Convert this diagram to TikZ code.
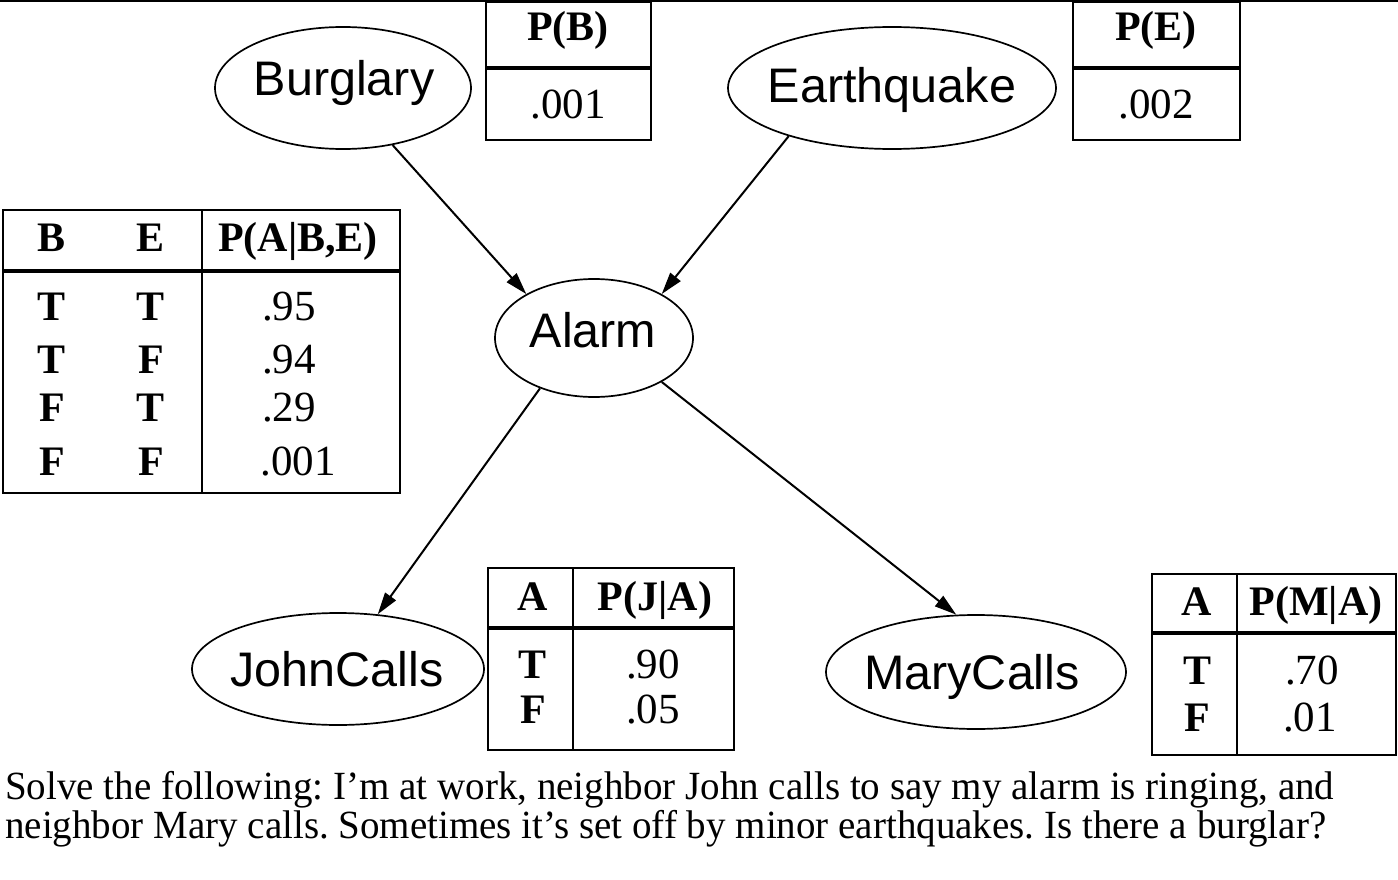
\documentclass[tikz,border=0pt]{standalone}
\usepackage{fontspec}
\usepackage{graphicx}
\setmainfont{Liberation Serif}
\newfontfamily\helvfont{Liberation Sans}
\usetikzlibrary{arrows.meta,shapes.geometric}
\frenchspacing
\begin{document}
\begin{tikzpicture}[x=1pt,y=-1pt,
  varnode/.style={draw, ellipse, line width=1.7pt, inner sep=0pt},
  vartext/.style={font=\helvfont\fontsize{48.5}{48.5}\selectfont, inner sep=0pt, anchor=base},
  edge/.style={line width=2pt, -{Triangle[length=22pt,width=13pt]}},
  tbl/.style={line width=2.2pt},
  sepline/.style={line width=4.5pt},
  hd/.style={font=\fontsize{42}{42}\selectfont\bfseries, anchor=base, inner sep=0pt},
  vl/.style={font=\fontsize{43}{43}\selectfont, anchor=base, inner sep=0pt},
  bd/.style={font=\fontsize{40}{40}\selectfont, anchor=base west, inner sep=0pt}
]
\useasboundingbox (0,0) rectangle (1398,880);
\fill[white] (0,0) rectangle (1398,880);
\draw[line width=2.5pt] (0,1) -- (1398,1);

% variable nodes
\node[varnode, minimum width=256pt, minimum height=122pt] (B) at (343,88) {};
\node[vartext] (Bt) at (344,96) {Burglary};
\node[varnode, minimum width=328pt, minimum height=122pt] (E) at (892,88) {};
\node[vartext] (Et) at (892,103) {Earthquake};
\node[varnode, minimum width=198pt, minimum height=118pt] (A) at (594,338) {};
\node[vartext] (At) at (593,347) {Alarm};
\node[varnode, minimum width=292pt, minimum height=112pt] (J) at (338,669) {};
\node[vartext] (Jt) at (337,686) {JohnCalls};
\node[varnode, minimum width=300pt, minimum height=114pt] (M) at (976,672) {};
\node[vartext] (Mt) at (972,689) {MaryCalls};

% edges
\draw[edge] (B.-49.7) -- (A.147.3);
\draw[edge] (E.205.7) -- (A.33.5);
\draw[edge] (A.223.4) -- (J.54.6);
\draw[edge] (A.-33) -- (M.109);

% P(B)
\draw[tbl] (486,2) rectangle (651,140);
\draw[sepline] (486,68) -- (651,68);
\node[hd] (pbh) at (568,41) {P(B)};
\node[vl] (pbv) at (568,119) {.001};

% P(E)
\draw[tbl] (1073,2) rectangle (1240,140);
\draw[sepline] (1073,68) -- (1240,68);
\node[hd] (peh) at (1156,41) {P(E)};
\node[vl] (pev) at (1156,119) {.002};

% P(A|B,E)
\draw[tbl] (3,210) rectangle (400,493);
\draw[sepline] (3,271) -- (400,271);
\draw[tbl] (202,210) -- (202,493);
\node[hd] (abh1) at (52,251) {B};
\node[hd] (abh2) at (151,251) {E};
\node[hd] (abh3) at (298,251) {P(A|B,E)};
\node[hd] (ab11) at (52,320) {T};
\node[hd] (ab12) at (151,320) {T};
\node[vl] (ab13) at (289,320) {.95};
\node[hd] (ab21) at (52,373) {T};
\node[hd] (ab22) at (151,373) {F};
\node[vl] (ab23) at (289,373) {.94};
\node[hd] (ab31) at (52,421) {F};
\node[hd] (ab32) at (151,421) {T};
\node[vl] (ab33) at (289,421) {.29};
\node[hd] (ab41) at (52,475) {F};
\node[hd] (ab42) at (151,475) {F};
\node[vl] (ab43) at (298,475) {.001};

% P(J|A)
\draw[tbl] (488,568) rectangle (734,750);
\draw[sepline] (488,628) -- (734,628);
\draw[tbl] (573,568) -- (573,750);
\node[hd] (jh1) at (533,610) {A};
\node[hd] (jh2) at (655,610) {P(J|A)};
\node[hd] (j11) at (533,678) {T};
\node[vl] (j12) at (653,678) {.90};
\node[hd] (j21) at (533,723) {F};
\node[vl] (j22) at (653,723) {.05};

% P(M|A)
\draw[tbl] (1152,574) rectangle (1396,755);
\draw[sepline] (1152,633) -- (1396,633);
\draw[tbl] (1237,574) -- (1237,755);
\node[hd] (mh1) at (1197,615) {A};
\node[hd] (mh2) at (1316,615) {P(M|A)};
\node[hd] (m11) at (1197,684) {T};
\node[vl] (m12) at (1312,684) {.70};
\node[hd] (m21) at (1197,731) {F};
\node[vl] (m22) at (1310,731) {.01};

% question text
\node[bd] (q1) at (5,799) {\scalebox{0.975}[1]{Solve the following: I’m at work, neighbor John calls to say my alarm is ringing, and}};
\node[bd] (q2) at (5,838) {\scalebox{0.975}[1]{neighbor Mary calls. Sometimes it’s set off by minor earthquakes. Is there a burglar?}};
\end{tikzpicture}
\end{document}
